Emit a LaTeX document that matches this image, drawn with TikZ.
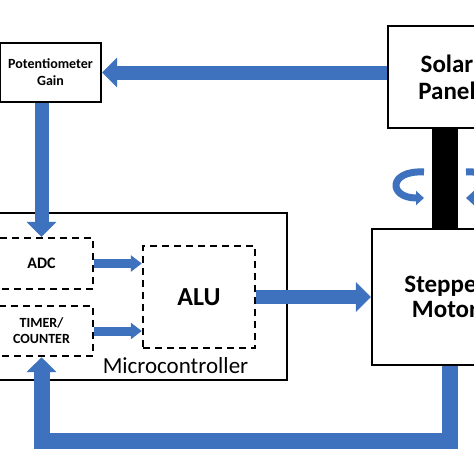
\documentclass[tikz,border=0pt]{standalone}
\usepackage{fontspec}
\setmainfont{Carlito}
\usetikzlibrary{arrows.meta}
\definecolor{flowblue}{RGB}{62,114,190}
\tikzset{
  box/.style={draw,line width=2.2pt,fill=white,align=center,inner sep=0pt},
  dashbox/.style={draw,line width=2.4pt,dash pattern=on 7pt off 5pt,align=center,inner sep=0pt},
  flow/.style={flowblue,line width=14pt,line join=miter,
    -{Triangle[length=15pt,width=29pt]}},
  thinflow/.style={flowblue,line width=9pt,-{Triangle[length=11pt,width=16pt]}},
  turn/.style={flowblue,line width=7pt,-{Triangle[length=8pt,width=14pt]}}
}
\begin{document}
\begin{tikzpicture}[x=1pt,y=-1pt]
    \clip (0,0) rectangle (474,474);
    \fill[white] (0,0) rectangle (474,474);
    % boxes
    \node[box,minimum width=101pt,minimum height=59pt,font=\bfseries\fontsize{14}{17}\selectfont]
      (pot) at (50.5,72.5) {Potentiometer\\Gain};
    \node[box,minimum width=118pt,minimum height=102pt,font=\bfseries\fontsize{25}{27}\selectfont]
      (solar) at (447,77) {Solar\\Panel};
    \node[box,minimum width=146pt,minimum height=136pt,font=\bfseries\fontsize{25}{25}\selectfont]
      (motor) at (445,297) {Stepper\\Motor};
    \fill[black] (432,128) rectangle (458,229);
    \node[inner sep=0pt,minimum width=26pt,minimum height=101pt] (shaft) at (445,178.5) {};
    \node[box,minimum width=297pt,minimum height=167pt] (mcu) at (138.5,296.5) {};
    \node[font=\fontsize{23}{26}\selectfont] (mcutext) at (175.5,366) {Microcontroller};
    \node[dashbox,minimum width=103pt,minimum height=51pt,font=\bfseries\fontsize{16}{18}\selectfont]
      (adc) at (41.5,263.5) {ADC};
    \node[dashbox,minimum width=103pt,minimum height=50pt,font=\bfseries\fontsize{14}{16}\selectfont]
      (timer) at (41.5,331) {TIMER/\\COUNTER};
    \node[dashbox,minimum width=112pt,minimum height=102pt,font=\bfseries\fontsize{26}{28}\selectfont]
      (alu) at (199,297) {ALU};
    % signal flow
    \draw[flow] (solar.west |- pot.east) -- (pot.east);
    \draw[flow] (adc.north |- pot.south) -- (adc.north);
    \draw[thinflow] (adc.east) -- (adc.east -| alu.west);
    \draw[thinflow] (timer.east) -- (timer.east -| alu.west);
    \draw[flow] (alu.east) -- (alu.east -| motor.west);
    \coordinate (fb) at (450,441);
    \draw[flow,line width=16pt] (motor.south -| fb) -- (fb) -| (timer.south);
    % rotation
    \draw[turn] (424,172) .. controls (388,170) and (388,198) .. (424,198);
    \draw[turn] (466,172) .. controls (502,170) and (502,198) .. (466,198);
  \end{tikzpicture}
\end{document}
